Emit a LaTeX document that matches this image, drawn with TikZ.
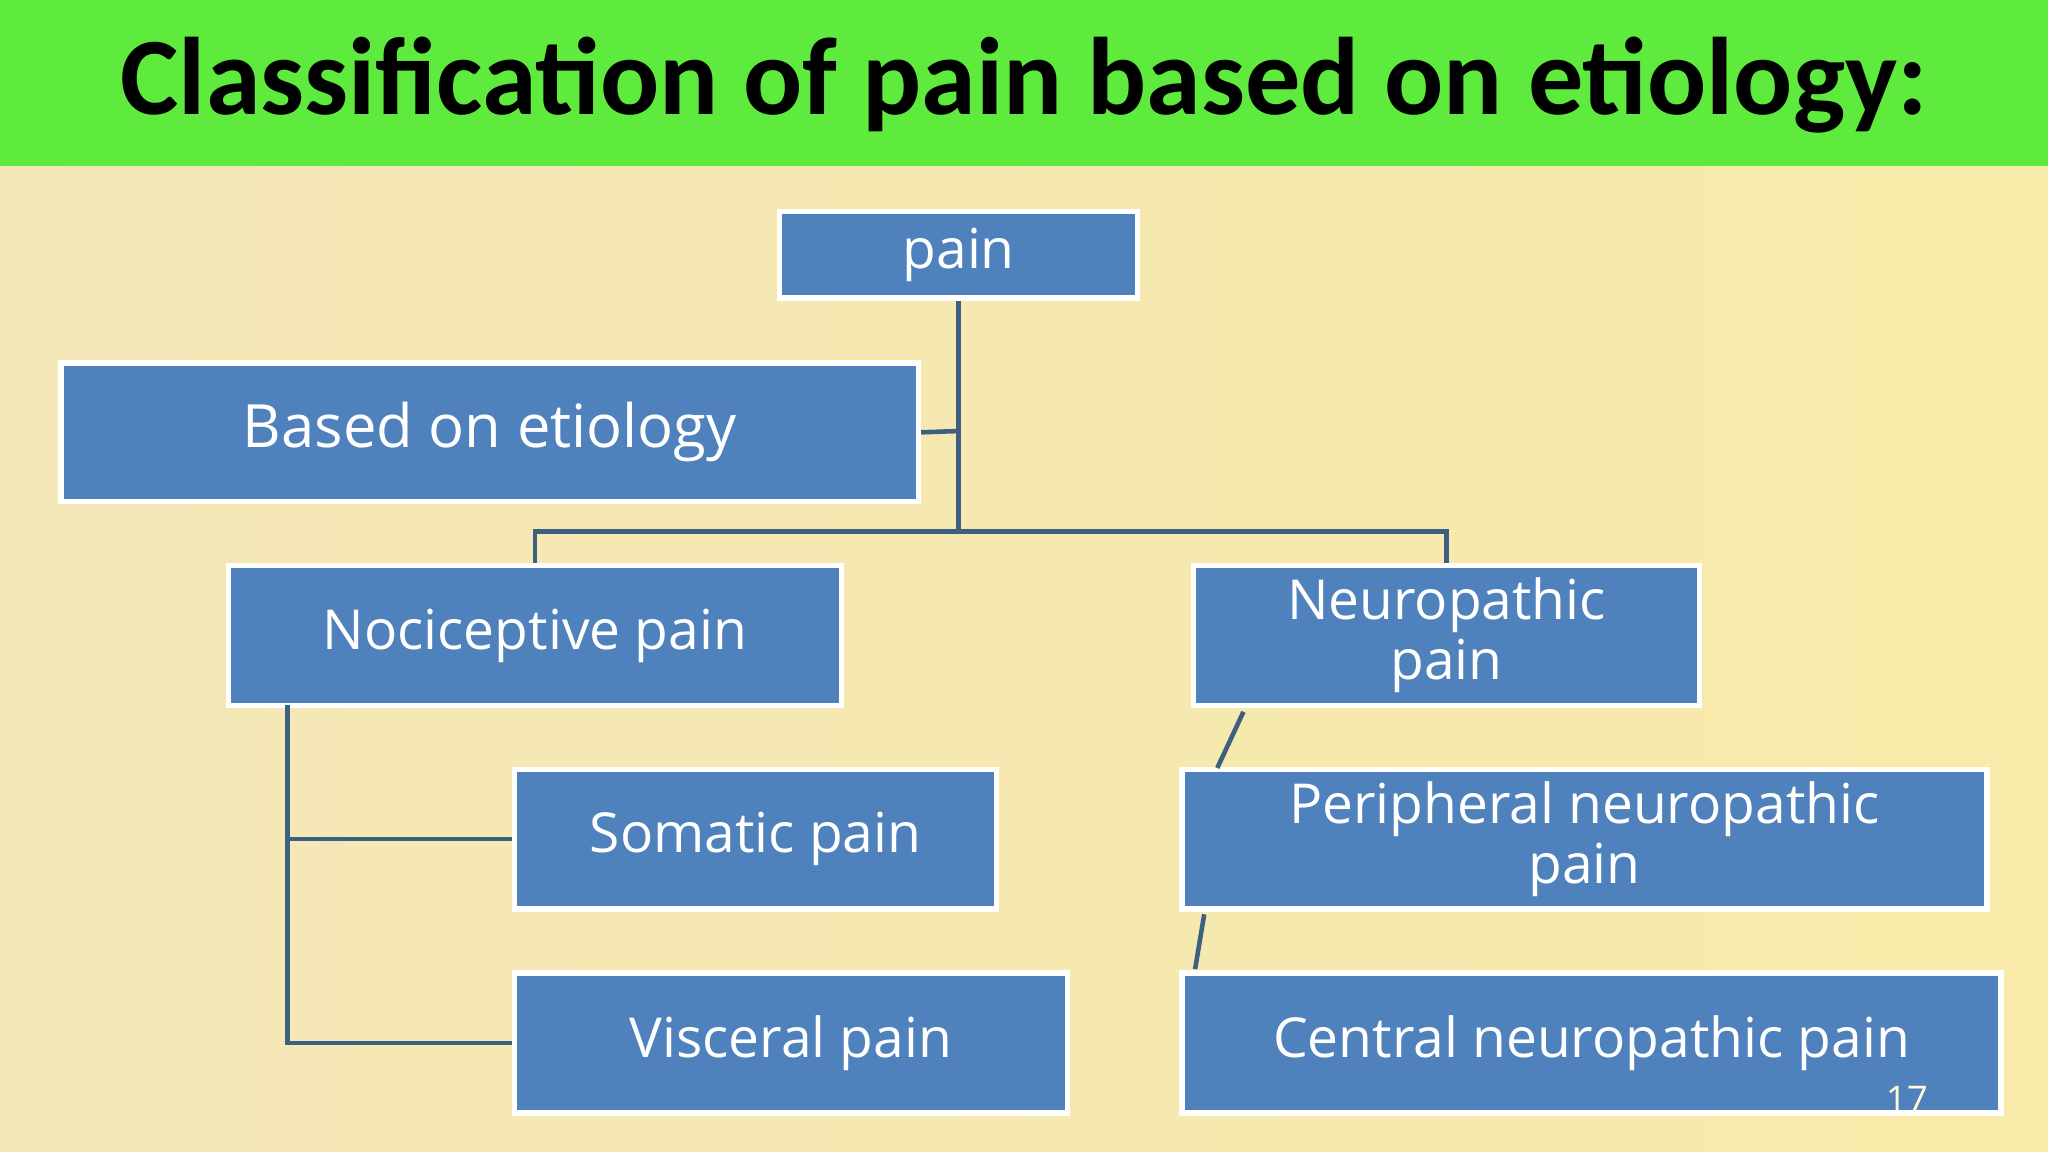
\documentclass[tikz,border=0pt]{standalone}
\usepackage{fontspec}
\setmainfont{Open Sans}
\newfontfamily\titlefont{Carlito}
\definecolor{banner}{HTML}{5FEB3E}
\definecolor{boxblue}{HTML}{4F81BD}
\definecolor{linec}{HTML}{3D5F80}
\definecolor{bgL}{HTML}{F4E7B8}
\definecolor{bgR}{HTML}{F8EAA8}
\begin{document}
\begin{tikzpicture}[x=0.01cm,y=-0.01cm,
  box/.style={draw=white,line width=1.2pt,fill=boxblue,text=white,inner sep=0pt,align=center,font=\fontsize{12}{13}\selectfont},
  conn/.style={draw=linec,line width=1pt}]
\useasboundingbox (0,0) rectangle (1568,882);
\shade[left color=bgL,right color=bgR] (0,127) rectangle (1568,882);
\fill[banner] (0,0) rectangle (1568,127);
\node (title) at (784,65) {\titlefont\bfseries\fontsize{24}{26}\selectfont Classification of pain based on etiology:};
\node[box,minimum width=274\pgflinewidth*0+2.74cm,minimum height=0.66cm] (pain) at (734,195) {pain};
\node[box,minimum width=6.56cm,minimum height=1.06cm,font=\fontsize{13}{14}\selectfont] (based) at (375,331) {Based on etiology};
\node[box,minimum width=4.69cm,minimum height=1.07cm] (noci) at (409.5,486.5) {Nociceptive pain};
\node[box,minimum width=3.87cm,minimum height=1.07cm] (neuro) at (1107.5,486.5) {Neuropathic\\pain};
\node[box,minimum width=3.69cm,minimum height=1.07cm] (soma) at (578.5,642.5) {Somatic pain};
\node[box,minimum width=6.16cm,minimum height=1.07cm] (peri) at (1213,642.5) {Peripheral neuropathic\\pain};
\node[box,minimum width=4.23cm,minimum height=1.07cm] (visc) at (605.5,798.5) {Visceral pain};
\node[box,minimum width=6.27cm,minimum height=1.07cm] (cent) at (1218.5,798.5) {Central neuropathic pain};
\coordinate (j) at (734,407);
\coordinate (jb) at (734,330);
\coordinate (nl) at (220,540);
\draw[conn] (pain.south) -- (j);
\draw[conn] (based.east) -- (jb);
\draw[conn] (noci.north) |- (j) -| (neuro.north);
\draw[conn] (nl) |- (visc.west);
\draw[conn] (nl |- soma.west) -- (soma.west);
\coordinate (s1) at (952,545); \coordinate (s2) at (932,588);
\coordinate (s3) at (922,700); \coordinate (s4) at (915,742);
\draw[conn] (s1) -- (s2);
\draw[conn] (s3) -- (s4);
\node[text=white!85!yellow,font=\fontsize{8}{9}\selectfont] (pg) at (1460,842) {17};
\end{tikzpicture}
\end{document}
